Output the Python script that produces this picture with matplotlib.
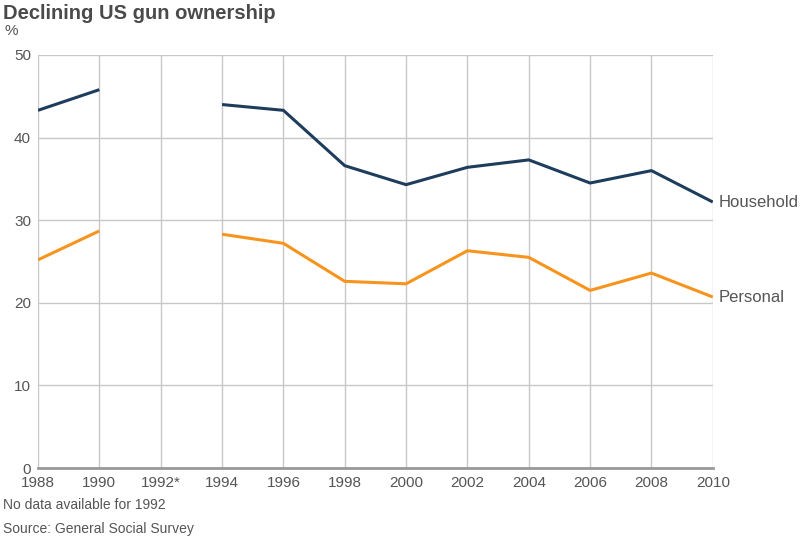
import numpy as np
import matplotlib.pyplot as plt

plt.rcParams['font.family'] = ['Liberation Sans', 'DejaVu Sans']

years = [1988, 1990, 1992, 1994, 1996, 1998, 2000, 2002, 2004, 2006, 2008, 2010]
year_labels = ['1988', '1990', '1992*', '1994', '1996', '1998', '2000',
               '2002', '2004', '2006', '2008', '2010']
household = [43.3, 45.8, np.nan, 44.0, 43.3, 36.6, 34.3, 36.4, 37.3, 34.5, 36.0, 32.2]
personal = [25.2, 28.7, np.nan, 28.3, 27.2, 22.6, 22.3, 26.3, 25.5, 21.5, 23.6, 20.7]

fig = plt.figure(figsize=(8, 5.39), dpi=100)
ax = fig.add_axes([0.0475, 0.1317, 0.8435, 0.7663])

ax.plot(years, household, color='#1e3d5c', lw=2.2, solid_capstyle='butt')
ax.plot(years, personal, color='#f7941d', lw=2.2, solid_capstyle='butt')

ax.set_xlim(1988, 2010)
ax.set_ylim(0, 50)
ax.set_xticks(years)
ax.set_xticklabels(year_labels)
ax.set_yticks([0, 10, 20, 30, 40, 50])
ax.grid(True, color='#c8c8c8', lw=1)
ax.set_axisbelow(True)
for s in ['top', 'right', 'left']:
    ax.spines[s].set_visible(False)
ax.spines['bottom'].set_color('#999999')
ax.spines['bottom'].set_linewidth(2)
ax.tick_params(length=0, labelsize=11, labelcolor='#555555')
ax.tick_params(axis='x', pad=6)
ax.tick_params(axis='y', pad=5)

ax.text(2010.2, household[-1], 'Household', color='#555555', fontsize=12, va='center', ha='left')
ax.text(2010.2, personal[-1], 'Personal', color='#555555', fontsize=12, va='center', ha='left')

fig.text(0.004, 0.975, 'Declining US gun ownership', fontsize=14.5, fontweight='bold',
         color='#4a4a4a', va='center')
fig.text(0.006, 0.942, '%', fontsize=11, color='#555555', va='center')
fig.text(0.004, 0.063, 'No data available for 1992', fontsize=10, color='#555555', va='center')
fig.text(0.004, 0.018, 'Source: General Social Survey', fontsize=10, color='#555555', va='center')

fig.savefig('out.png', dpi=100, facecolor='white')
